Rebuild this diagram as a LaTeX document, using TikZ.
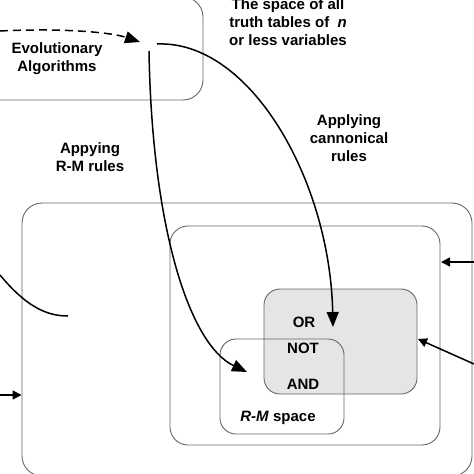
\documentclass[tikz,border=0pt]{standalone}
\usepackage{fontspec}
\setmainfont{Liberation Sans}
\usetikzlibrary{arrows.meta}
\begin{document}
\begin{tikzpicture}[x=1pt,y=-1pt,
  box/.style={draw=black!60, line width=0.9pt, rounded corners=#1, inner sep=0pt},
  box/.default=18pt,
  conn/.style={draw=black, line width=1.5pt},
  bigtip/.style={-{Triangle[length=15pt,width=12pt]}},
  smalltip/.style={-{Triangle[length=9pt,width=9pt]}},
  lbl/.style={font=\fontsize{15}{18}\selectfont\bfseries, align=center, inner sep=0pt}]
\useasboundingbox (0,0) rectangle (474,474);
% boxes
\node (ea) [box=20pt, minimum width=228pt, minimum height=103pt] at (89,48.5) {};
\node (big) [box=20pt, minimum width=450pt, minimum height=273pt] at (247,339.5) {};
\node (mid) [box=18pt, minimum width=270pt, minimum height=219pt] at (305,335.5) {};
\node (grey) [box=16pt, fill=black!10, minimum width=153pt, minimum height=105pt] at (340.5,341.5) {};
\node (rm) [box=16pt, minimum width=124pt, minimum height=95pt] at (282,386.5) {};
% texts
\node (evo) [lbl] at (57,59) {Evolutionary\\Algorithms};
\node (space) [lbl] at (288,22) {The space of all\\truth tables of~~\textit{n}\\or less variables};
\node (canon) [lbl] at (349,138) {Applying\\cannonical\\rules};
\node (rmrules) [lbl] at (90,157) {Appying\\R-M rules};
\node (or) [lbl] at (304,322) {OR};
\node (not) [lbl] at (303,348) {NOT};
\node (and) [lbl] at (303,384) {AND};
\node (rmspace) [lbl] at (278,418) {\textit{R-M} space};
% connector endpoints
\coordinate (dstart) at (0,31);
\coordinate (dend) at (140,42);
\coordinate (c1s) at (149,51);
\coordinate (c1e) at (247,372);
\coordinate (c2s) at (157,44);
\coordinate (c2e) at (333,327);
\coordinate (ls) at (0,275);
\coordinate (le) at (68,316);
\coordinate (la) at (0,395);
\coordinate (rb) at (441,262);
\coordinate (ra) at (474,262);
\coordinate (rc) at (474,364);
\coordinate (rd) at (418,339);
% connectors
\draw[conn, bigtip, dash pattern=on 8pt off 5pt] (dstart) .. controls (60,28) and (110,32) .. (dend);
\draw[conn, bigtip] (c1s) .. controls (152,230) and (190,345) .. (c1e);
\draw[conn, bigtip] (c2s) .. controls (250,40) and (330,180) .. (c2e);
\draw[conn] (ls) .. controls (25,305) and (45,316) .. (le);
\draw[conn, smalltip] (la) -- (la -| big.west);
\draw[conn, smalltip] (ra) -- (rb);
\draw[conn, smalltip] (rc) -- (rd);
\end{tikzpicture}
\end{document}
